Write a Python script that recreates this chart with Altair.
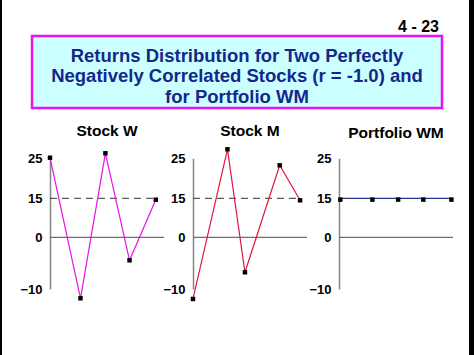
import altair as alt
import pandas as pd

# ---- data ----
slide_no = "4 - 23"
header_lines = [
    "Returns Distribution for Two Perfectly",
    "Negatively Correlated Stocks (r = -1.0) and",
    "for Portfolio WM",
]
panel_titles = ["Stock W", "Stock M", "Portfolio WM"]
tick_values = [-10, 0, 15, 25]
mean_return = 15

periods_w = [0, 1.15, 2.09, 3.0, 3.99]
returns_w = [25.15, -11.8, 26.25, -4.45, 14.46]

periods_m = [0, 1.30, 1.96, 3.27, 4.04]
returns_m = [-11.93, 27.25, -6.77, 23.25, 14.23]

periods_wm = [0.05, 1.26, 2.23, 3.18, 4.24]
returns_wm = [14.5, 14.5, 14.5, 14.5, 14.5]

FONT = "Liberation Sans"
PW, PH = 114, 141

xscale = alt.Scale(domain=[0, 4.3], nice=False, zero=False)
# the slide's axis is drawn piecewise (uneven spacing between labels)
yscale = alt.Scale(domain=tick_values, range=[134, 82.3, 43.3, 3.3],
                   nice=False, zero=False)


def yenc(field="ret"):
    return alt.Y(f"{field}:Q", scale=yscale,
                 axis=alt.Axis(values=tick_values, ticks=False, grid=False,
                               domainColor="#858585", domainWidth=1.5,
                               labelFont=FONT, labelFontSize=13,
                               labelFontWeight="bold", labelColor="black",
                               labelPadding=8, title=None))


def panel(xs, ys, title, color, offset, kind):
    df = pd.DataFrame({"period": xs, "ret": ys})
    xenc = alt.X("period:Q", scale=xscale, axis=None)
    zero = alt.Chart(pd.DataFrame({"ret": [0]})).mark_rule(
        color="#6e6e6e", strokeWidth=1.3).encode(y=yenc())
    mean_df = pd.DataFrame({"period": [xs[0]], "period_end": [xs[-1]],
                            "ret": [mean_return]})
    layers = [zero]
    if kind == "stock":
        mean = alt.Chart(mean_df).mark_rule(
            color="#333333", strokeWidth=1, strokeDash=[7, 5]).encode(
            x=xenc, x2="period_end:Q", y=yenc())
        line = alt.Chart(df).mark_line(color=color, strokeWidth=1.2).encode(
            x=xenc, y=yenc())
        layers += [mean, line]
    else:
        mean = alt.Chart(mean_df).mark_rule(
            color=color, strokeWidth=1.3).encode(
            x=xenc, x2="period_end:Q", y=yenc())
        layers += [mean]
    pts = alt.Chart(df).mark_square(size=20, color="black", opacity=1).encode(
        x=xenc, y=yenc())
    layers.append(pts)
    return alt.layer(*layers).properties(
        width=PW, height=PH,
        title=alt.TitleParams(text=title, font=FONT, fontSize=15.5,
                              fontWeight="bold", color="black",
                              anchor="middle", frame="group",
                              baseline="alphabetic", offset=offset))


one = pd.DataFrame({"v": [0]})


def spacer(w, h=PH):
    return alt.Chart(one).mark_rect(opacity=0).encode(
        x=alt.value(0), x2=alt.value(w), y=alt.value(0), y2=alt.value(h)
    ).properties(width=w, height=h)


def bar(w, h=355):
    return alt.Chart(one).mark_rect(color="black").encode(
        x=alt.value(0), x2=alt.value(w), y=alt.value(0), y2=alt.value(h)
    ).properties(width=w, height=h)


box = alt.Chart(one).mark_rect(fill="#ccffff", stroke="#ee10ee",
                               strokeWidth=2.5).encode(
    x=alt.value(30), x2=alt.value(440), y=alt.value(36), y2=alt.value(108))
head_text = alt.Chart(one).mark_text(
    font=FONT, fontSize=18.5, fontWeight="bold", color="#16278c",
    align="center", baseline="alphabetic", lineHeight=20.5).encode(
    x=alt.value(235), y=alt.value(61.5), text=alt.value(header_lines))
num_text = alt.Chart(one).mark_text(
    font=FONT, fontSize=16, fontWeight="bold", color="black",
    align="right", baseline="alphabetic").encode(
    x=alt.value(437), y=alt.value(32), text=alt.value(slide_no))
header = alt.layer(box, head_text, num_text).properties(width=467, height=120)

pw = panel(periods_w, returns_w, panel_titles[0], "#e614e6", -1, "stock")
pm = panel(periods_m, returns_m, panel_titles[1], "#e3163e", -5, "stock")
pwm = panel(periods_wm, returns_wm, panel_titles[2], "#27348b", -1, "port")

row = alt.hconcat(spacer(48), pw, spacer(29), pm, spacer(32), pwm,
                  spacing=0, bounds="flush")
middle = alt.vconcat(header, row, spacing=35, bounds="flush")
chart = alt.hconcat(bar(2), middle, bar(5), spacing=0).properties(
    padding=0, background="white"
).configure_view(stroke=None)

chart.save("out.html", embed_options={"renderer": "svg", "actions": False})
